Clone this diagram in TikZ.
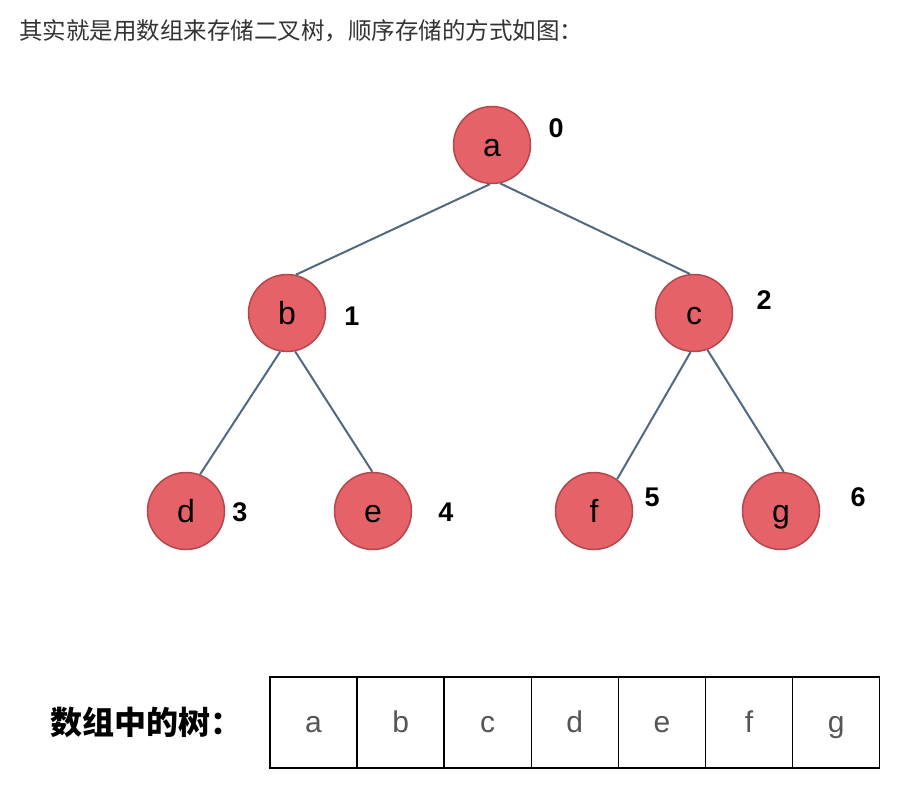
\documentclass[tikz,border=0pt]{standalone}
\usepackage{fontspec}
\setmainfont{Liberation Sans}
\newfontfamily\cjk{Noto Sans CJK SC}
\definecolor{nodefill}{HTML}{E46268}
\definecolor{nodeline}{HTML}{B5474C}
\definecolor{edgecol}{HTML}{52697F}
\definecolor{txtgray}{HTML}{555555}
\definecolor{titlecol}{HTML}{333333}
\begin{document}
\begin{tikzpicture}[x=1pt,y=-1pt,
  tnode/.style={circle,fill=nodefill,draw=nodeline,line width=1.5pt,minimum size=77pt,inner sep=0pt,text height=22pt,text depth=0pt,font=\fontsize{32}{32}\selectfont},
  idx/.style={font=\fontsize{27}{27}\selectfont\bfseries},
  edge/.style={draw=edgecol,line width=2pt},
  cell/.style={draw=black,line width=1.5pt,minimum width=87.1pt,minimum height=91pt,inner sep=0pt,text height=20pt,text depth=0pt,text=txtgray,font=\fontsize{30}{30}\selectfont}]
\useasboundingbox (0,0) rectangle (912,787);
\node[anchor=west,text=titlecol,font=\cjk\fontsize{23.5}{24}\selectfont,inner sep=0pt] (title) at (19,31) {其实就是用数组来存储二叉树，顺序存储的方式如图：};
\node[tnode] (a) at (492,145) {a};
\node[tnode] (b) at (287,313) {b};
\node[tnode] (c) at (694,313) {c};
\node[tnode] (d) at (186,511) {d};
\node[tnode] (e) at (373,511) {e};
\node[tnode] (f) at (594,511) {f};
\node[tnode] (g) at (781,511) {g};
\draw[edge] (a.-93) -- (b.77);
\draw[edge] (a.-78) -- (c.96);
\draw[edge] (b.-100) -- (d.69);
\draw[edge] (b.-78) -- (e.91);
\draw[edge] (c.-95) -- (f.54);
\draw[edge] (c.-70) -- (g.86);
\node[idx] (i0) at (556,128) {0};
\node[idx] (i1) at (352,316) {1};
\node[idx] (i2) at (764,300) {2};
\node[idx] (i3) at (240,512) {3};
\node[idx] (i4) at (446,512) {4};
\node[idx] (i5) at (652,497) {5};
\node[idx] (i6) at (858,497) {6};
\node[anchor=west,inner sep=0pt,font=\cjk\fontsize{32}{32}\selectfont\bfseries] (lbl) at (50,722) {数组中的树：};
\foreach \l [count=\i from 0] in {a,b,c,d,e,f,g}
  \node[cell] (t\i) at ({313.5+87.1*\i},722.5) {\l};
\end{tikzpicture}
\end{document}
